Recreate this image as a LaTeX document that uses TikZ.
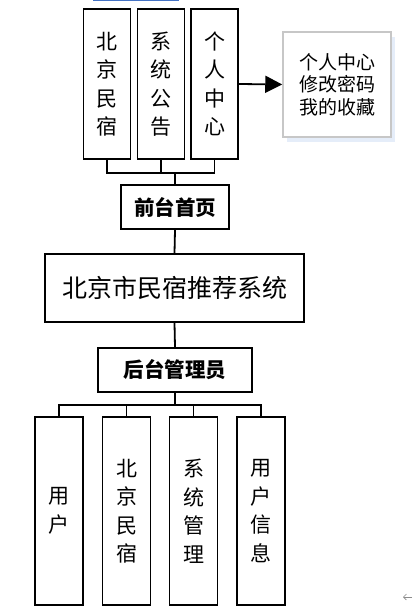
\documentclass[tikz,border=0pt]{standalone}
\usepackage{fontspec}
\newfontfamily\cjk{Noto Sans CJK SC}
\usepackage{tikz}
\usetikzlibrary{arrows.meta}
\usetikzlibrary{shadows}

\definecolor{linkblue}{RGB}{68,114,196}
\definecolor{shadowblue}{RGB}{222,232,247}

\tikzset{
  box/.style={draw, line width=1.8pt, fill=white, inner sep=0pt, align=center},
  vbox/.style={box, minimum width=47pt, font=\cjk\fontsize{21}{28.5}\selectfont},
  hbox/.style={box, font=\cjk\bfseries\fontsize{20.5}{24}\selectfont},
  link/.style={line width=1.8pt}
}

\begin{document}
\begin{tikzpicture}[x=1pt, y=-1pt]
      \useasboundingbox (0,0) rectangle (414,615);

      % front end
      \node[vbox, minimum height=150pt] (bjms) at (107,84) {北\\京\\民\\宿};
      \node[vbox, minimum height=150pt] (xtgg) at (161,84) {系\\统\\公\\告};
      \node[vbox, minimum height=150pt] (grzx) at (214.5,84) {个\\人\\中\\心};
      \node[draw=black!22, line width=1.5pt, fill=white, minimum width=108pt, minimum height=105pt,
            align=left, inner sep=0pt, font=\cjk\fontsize{19}{22.5}\selectfont,
            drop shadow={shadow xshift=4pt, shadow yshift=-5pt, fill=shadowblue, opacity=0.8}]
            (menu) at (337,84.5) {个人中心\\修改密码\\我的收藏};
      \node[hbox, minimum width=108pt, minimum height=44pt] (qtsy) at (175,207) {前台首页};

      \node[box, minimum width=259pt, minimum height=68pt, font=\cjk\fontsize{25}{28}\selectfont]
            (main) at (174.5,288) {北京市民宿推荐系统};

      % back end
      \node[hbox, minimum width=154pt, minimum height=44pt] (htgl) at (175,370) {后台管理员};
      \node[vbox, minimum width=48pt, minimum height=188pt] (yh) at (59,511) {用\\户};
      \node[vbox, minimum width=48pt, minimum height=188pt] (ms) at (126.5,511) {北\\京\\民\\宿};
      \node[vbox, minimum width=48pt, minimum height=188pt] (xtgl) at (193.5,511) {系\\统\\管\\理};
      \node[vbox, minimum width=48pt, minimum height=188pt] (yhxx) at (261,511) {用\\户\\信\\息};

      \draw[link] (bjms.south) -- ++(0,13) -| (qtsy.north);
      \draw[link] (xtgg.south) -- ++(0,13);
      \draw[link] (grzx.south) -- ++(0,13) -| (qtsy.north);
      \draw[link, -{Triangle[length=17pt,width=17pt]}] (grzx.east) -- (menu.west);
      \draw[link] (qtsy.south) -- (main.north);
      \draw[link] (main.south) -- (htgl.north);

      \draw[link] (htgl.south) -- ++(0,12) -| (yh.north);
      \draw[link] (htgl.south) ++(0,12) -| (ms.north);
      \draw[link] (htgl.south) ++(0,12) -| (xtgl.north);
      \draw[link] (htgl.south) ++(0,12) -| (yhxx.north);

      % stray marks at the edges
      \draw[line width=1pt, linkblue] (93,1) -- (179,1);
      \draw[black!45, line width=0.6pt, -{Straight Barb[length=3pt]}] (412,597) -- (403,597);
    \end{tikzpicture}
\end{document}
